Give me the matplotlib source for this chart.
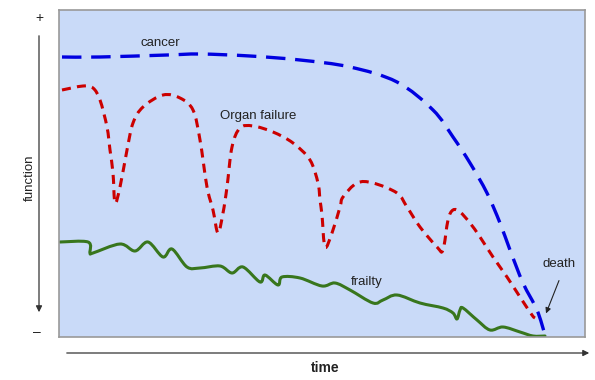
import matplotlib.pyplot as plt
from matplotlib.path import Path
from matplotlib.patches import PathPatch
import numpy as np

plt.rcParams['font.family'] = ['Liberation Sans', 'DejaVu Sans']
plt.rcParams['lines.scale_dashes'] = False

# curves, in pixel coords (x right, y down)
cancer_x = [62, 100, 167, 200, 250, 300, 350, 397, 433, 453, 470, 487, 500, 510, 523, 537, 545]
cancer_y = [57, 57, 55, 54, 56, 60, 67, 82, 110, 137, 163, 193, 223, 250, 283, 310, 335]

organ_x = [62, 83, 93, 100, 107, 110, 113, 115, 120, 127, 133, 143, 163, 180, 193, 200, 207,
           213, 218, 223, 227, 232, 240, 253, 273, 293, 310, 318, 320, 322, 325, 332, 340,
           343, 357, 373, 397, 407, 420, 437, 443, 448, 453, 460, 470, 480, 493, 507, 520, 532, 535]
organ_y = [90, 86, 88, 100, 127, 150, 173, 203, 187, 150, 123, 107, 95, 98, 110, 140, 187,
           210, 233, 213, 187, 147, 128, 126, 132, 143, 160, 183, 200, 215, 247, 233, 207,
           197, 183, 183, 193, 207, 227, 247, 250, 220, 210, 212, 223, 237, 257, 277, 297, 315, 318]

frail_x = [60, 88, 90, 93, 120, 135, 148, 163, 172, 187, 200, 220, 232, 243, 260, 265, 278, 282,
           300, 322, 335, 350, 373, 383, 397, 420, 443, 453, 457, 460, 463, 477, 490, 503, 520, 533, 545]
frail_y = [242, 242, 253, 253, 244, 251, 242, 257, 249, 267, 268, 266, 273, 267, 282, 275, 285, 277,
           278, 286, 283, 290, 303, 300, 295, 303, 308, 313, 319, 310, 308, 320, 330, 327, 332, 336, 336]


def smooth_path(xs, ys):
    # cubic bezier path through every point (catmull-rom tangents)
    p = np.column_stack([xs, ys]).astype(float)
    p = np.vstack([p[0], p, p[-1]])
    verts = [p[1]]
    codes = [Path.MOVETO]
    for i in range(1, len(p) - 2):
        c1 = p[i] + (p[i + 1] - p[i - 1]) / 6
        c2 = p[i + 1] - (p[i + 2] - p[i]) / 6
        verts += [c1, c2, p[i + 1]]
        codes += [Path.CURVE4] * 3
    return Path(verts, codes)


fig = plt.figure(figsize=(5.95, 3.8), dpi=100)

# overlay in pixel coords for the outer arrows and labels
ax0 = fig.add_axes([0, 0, 1, 1])
ax0.set_xlim(0, 595)
ax0.set_ylim(380, 0)
ax0.axis('off')
ax0.annotate('', xy=(39, 315), xytext=(39, 33),
             arrowprops=dict(arrowstyle='-|>', color='#333333', lw=0.9, mutation_scale=9))
ax0.annotate('', xy=(592, 353), xytext=(64, 353),
             arrowprops=dict(arrowstyle='-|>', color='#333333', lw=0.9, mutation_scale=9))
ax0.text(39, 18, '+', ha='center', va='center', fontsize=10, color='#222222')
ax0.text(37, 332, '\u2013', ha='center', va='center', fontsize=10, color='#222222')
ax0.text(30, 178, 'function', rotation=90, ha='center', va='center', fontsize=9.5, color='#222222')
ax0.text(325, 368, 'time', ha='center', va='center', fontsize=10, fontweight='bold', color='#222222')

ax = fig.add_axes([59 / 595, 1 - 337 / 380, 526 / 595, 327 / 380])
ax.set_facecolor('#c9daf8')
ax.set_xlim(59, 585)
ax.set_ylim(337, 10)
ax.set_xticks([])
ax.set_yticks([])
for s in ax.spines.values():
    s.set_color('#999999')
    s.set_linewidth(1.2)

ax.add_patch(PathPatch(smooth_path(frail_x, frail_y), fill=False, edgecolor='#38761d',
                       lw=2.2, capstyle='round', joinstyle='round'))
ax.add_patch(PathPatch(smooth_path(organ_x, organ_y), fill=False, edgecolor='#cc0000',
                       lw=2.2, linestyle=(0, (6.5, 4.5))))
ax.add_patch(PathPatch(smooth_path(cancer_x, cancer_y), fill=False, edgecolor='#0000e0',
                       lw=2.4, linestyle=(0, (14, 7))))

ax.text(160, 43, 'cancer', ha='center', va='center', fontsize=9.5, color='#222222')
ax.text(258, 116, 'Organ failure', ha='center', va='center', fontsize=9.5, color='#222222')
ax.text(367, 282, 'frailty', ha='center', va='center', fontsize=9.5, color='#222222')
ax.text(559, 264, 'death', ha='center', va='center', fontsize=9.5, color='#222222')
ax.annotate('', xy=(545, 316), xytext=(560, 278),
            arrowprops=dict(arrowstyle='-|>', color='#222222', lw=0.8, mutation_scale=8))

fig.savefig('out.png', dpi=100)
